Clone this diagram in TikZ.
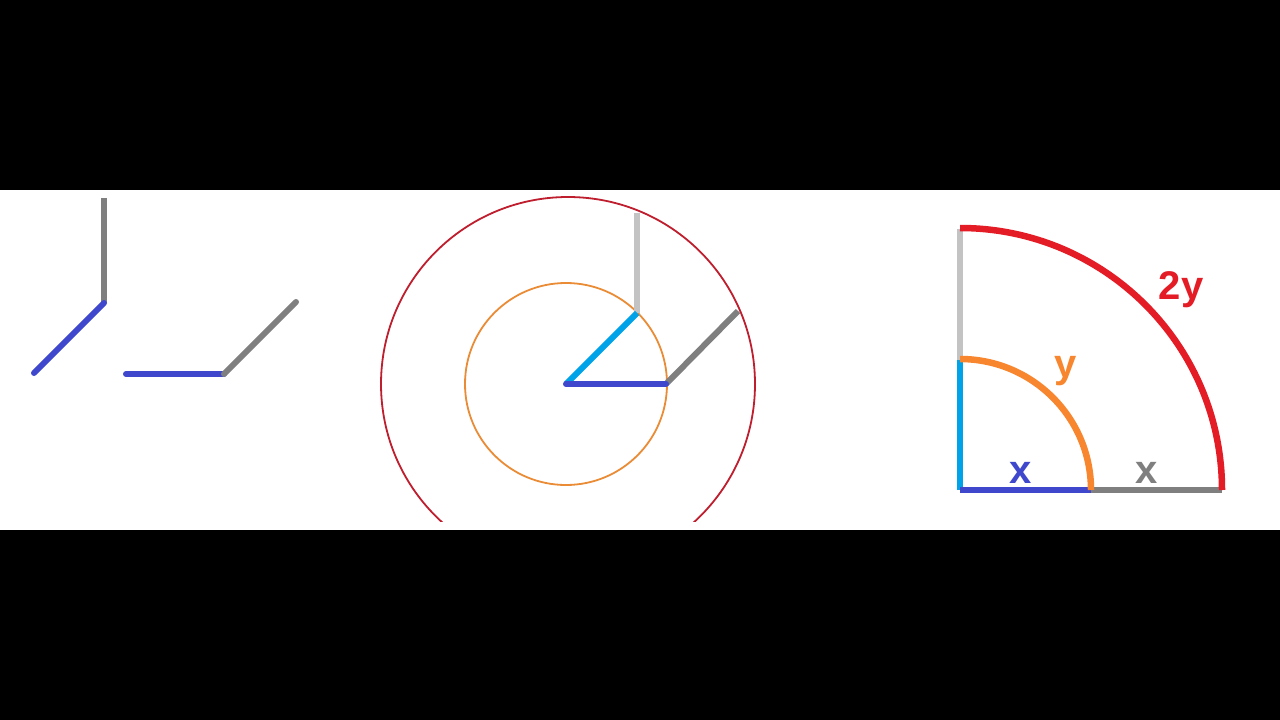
\documentclass[tikz,border=0pt]{standalone}
\usepackage{fontspec}
\setmainfont{Liberation Sans}
\usepackage{tikz}
\definecolor{segblue}{HTML}{3F48CC}
\definecolor{seggray}{HTML}{7F7F7F}
\definecolor{seglight}{HTML}{C3C3C3}
\definecolor{segcyan}{HTML}{00A2E8}
\definecolor{arcorange}{HTML}{F7862E}
\definecolor{arcred}{HTML}{E31C26}
\definecolor{ringred}{HTML}{BE1E2D}
\definecolor{ringorange}{HTML}{EA8C36}
\tikzset{
    seg/.style={line width=6pt},
    ring/.style={line width=1.8pt},
    bigarc/.style={line width=6.5pt},
    lbl/.style={font=\bfseries\fontsize{40}{44}\selectfont, anchor=base, inner sep=0pt}
}

\begin{document}
\begin{tikzpicture}[x=1pt,y=-1pt]
    % black bands and white strip
    \fill[black] (0,0) rectangle (1280,720);
    \fill[white] (0,190) rectangle (1280,530);
    \useasboundingbox (0,0) rectangle (1280,720);

    % two bent sticks
    \draw[seg,seggray] (104,198) -- (104,303);
    \draw[seg,segblue,line cap=round] (104,303) -- (34,373);
    \draw[seg,segblue,line cap=round] (126,374) -- (224,374);
    \draw[seg,seggray,line cap=round] (224,374) -- (296,302);

    % circles
    \begin{scope}
        \clip (0,190) rectangle (1280,521);
        \draw[ring,ringred] (568,384) circle (187);
    \end{scope}
    \draw[ring,ringorange] (566,384) circle (101);
    \draw[seg,seglight] (637,213) -- (637,313);
    \draw[seg,segcyan] (566,384) -- (637,313);
    \draw[seg,seggray] (666,384) -- (738,311);
    \draw[seg,segblue,line cap=round] (566,384) -- (666,384);

    % quarter arcs
    \draw[seg,seglight] (960,229) -- (960,360);
    \draw[seg,segcyan] (960,360) -- (960,490);
    \draw[seg,seggray] (1091,490) -- (1222,490);
    \draw[seg,segblue] (960,490) -- (1091,490);
    \draw[bigarc,arcorange] (1091,490) arc[start angle=0, end angle=-90, radius=131];
    \draw[bigarc,arcred] (1222,490) arc[start angle=0, end angle=-90, radius=262];

    \node[lbl,segblue] (xa) at (1021,483) {x};
    \node[lbl,seggray] (xb) at (1147,483) {x};
    \node[lbl,arcorange] (ya) at (1066,377) {y};
    \node[lbl,arcred] (yb) at (1181,299) {2y};
\end{tikzpicture}
\end{document}
